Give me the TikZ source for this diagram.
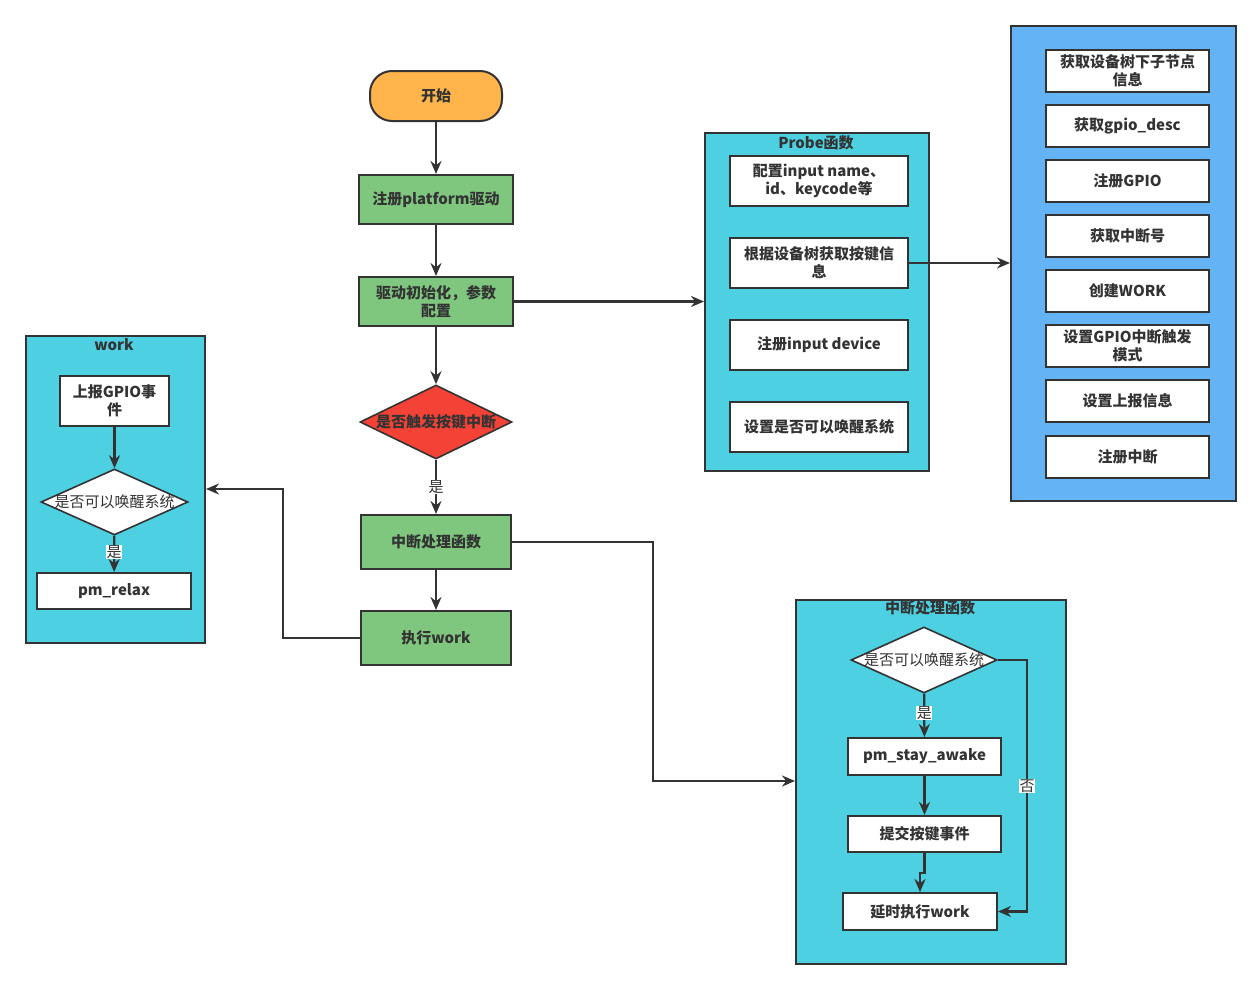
\documentclass[tikz,border=0pt]{standalone}
\usepackage{fontspec}
\setmainfont{Noto Sans CJK SC}
\usetikzlibrary{shapes.geometric,arrows.meta}
\definecolor{lc}{HTML}{333333}
\definecolor{orangec}{HTML}{FFB54C}
\definecolor{greenc}{HTML}{7FC77F}
\definecolor{redc}{HTML}{F44336}
\definecolor{cyanc}{HTML}{4DD0E1}
\definecolor{bluec}{HTML}{63B3F5}
\begin{document}
\begin{tikzpicture}[x=1pt,y=-1pt,
  every node/.style={font=\fontsize{15}{18}\selectfont\bfseries, text=lc, align=center, inner sep=0pt},
  gbox/.style={draw=lc, line width=2pt, fill=greenc},
  wbox/.style={draw=lc, line width=2pt, fill=white},
  cont/.style={draw=lc, line width=2pt},
  dia/.style={draw=lc, line width=1.6pt, shape=diamond, inner sep=0pt},
  conn/.style={draw=lc, line width=2.2pt, -{Stealth[length=13pt,width=11pt]}},
  elab/.style={fill=white, font=\fontsize{15}{16}\selectfont, inner sep=0.5pt},
  ttl/.style={font=\fontsize{15}{16}\selectfont\bfseries}
]
\useasboundingbox (0,0) rectangle (1259,988);

% containers
\node[cont, fill=cyanc, minimum width=224, minimum height=338, anchor=north west] (probe) at (704,132) {};
\node[ttl] (probet) at (816,143) {Probe函数};
\node[cont, fill=bluec, minimum width=225, minimum height=475, anchor=north west] (blue) at (1010,25) {};
\node[cont, fill=cyanc, minimum width=179, minimum height=307, anchor=north west] (work) at (25,335) {};
\node[ttl] (workt) at (114,345) {work};
\node[cont, fill=cyanc, minimum width=270, minimum height=364, anchor=north west] (irq) at (795,599) {};
\node[ttl] (irqt) at (930,608) {中断处理函数};

% main flow
\node[draw=lc, line width=2pt, fill=orangec, rounded corners=22pt, minimum width=132, minimum height=50] (start) at (436,96) {开始};
\node[gbox, minimum width=154, minimum height=49] (reg) at (436,199.5) {注册platform驱动};
\node[gbox, minimum width=154, minimum height=49] (init) at (436,301.5) {驱动初始化，参数\\配置};
\node[dia, fill=redc, minimum width=152, minimum height=74] (trig) at (436,422) {};
\node (trigt) at (436,422) {是否触发按键中断};
\node[gbox, minimum width=150, minimum height=54] (isr) at (436,542) {中断处理函数};
\node[gbox, minimum width=150, minimum height=54] (exec) at (436,638) {执行work};

\draw[conn] (start) -- (reg);
\draw[conn] (reg) -- (init);
\draw[conn] (init) -- (trig);
\draw[conn] (trig) -- node[elab] (yes1) {是} (isr);
\draw[conn] (isr) -- (exec);

% probe inner
\node[wbox, minimum width=178, minimum height=50] (p1) at (819,181) {配置input name、\\id、keycode等};
\node[wbox, minimum width=178, minimum height=50] (p2) at (819,263) {根据设备树获取按键信\\息};
\node[wbox, minimum width=178, minimum height=50] (p3) at (819,345) {注册input device};
\node[wbox, minimum width=178, minimum height=50] (p4) at (819,427) {设置是否可以唤醒系统};

\draw[conn] (init.east) -- (probe.west |- init.east);
\draw[conn] (p2.east) -- (blue.west |- p2.east);

% blue inner
\node[wbox, minimum width=163, minimum height=42] (b1) at (1127.5,71) {获取设备树下子节点\\信息};
\node[wbox, minimum width=163, minimum height=42] (b2) at (1127.5,126) {获取gpio\_desc};
\node[wbox, minimum width=163, minimum height=42] (b3) at (1127.5,181) {注册GPIO};
\node[wbox, minimum width=163, minimum height=42] (b4) at (1127.5,236) {获取中断号};
\node[wbox, minimum width=163, minimum height=42] (b5) at (1127.5,291) {创建WORK};
\node[wbox, minimum width=163, minimum height=42] (b6) at (1127.5,346) {设置GPIO中断触发\\模式};
\node[wbox, minimum width=163, minimum height=42] (b7) at (1127.5,401) {设置上报信息};
\node[wbox, minimum width=163, minimum height=42] (b8) at (1127.5,457) {注册中断};

% work inner
\node[wbox, minimum width=109, minimum height=50] (w1) at (114.5,401) {上报GPIO事\\件};
\node[dia, fill=white, minimum width=147, minimum height=66] (wd) at (114.5,502) {};
\node[font=\fontsize{15}{16}\selectfont] (wdt) at (114.5,502) {是否可以唤醒系统};
\node[wbox, minimum width=154, minimum height=36] (w2) at (114,591) {pm\_relax};
\draw[conn] (w1) -- (wd);
\draw[conn] (wd) -- node[elab, pos=0.45] (yes2) {是} (w2);

\coordinate (e1) at (283,638);
\coordinate (e2) at (283,489);
\draw[conn] (exec.west) -- (e1) -- (e2) -- (work.east |- e2);

% irq inner
\node[dia, fill=white, minimum width=146, minimum height=66] (id) at (924,660) {};
\node[font=\fontsize{15}{16}\selectfont] (idt) at (924,660) {是否可以唤醒系统};
\node[wbox, minimum width=153, minimum height=37] (i1) at (924.5,756.5) {pm\_stay\_awake};
\node[wbox, minimum width=153, minimum height=36] (i2) at (924.5,834) {提交按键事件};
\node[wbox, minimum width=154, minimum height=37] (i3) at (920,911.5) {延时执行work};
\draw[conn] (id) -- node[elab, pos=0.45] (yes3) {是} (i1);
\draw[conn] (i1) -- (i2);
\coordinate (j1) at (924.5,873);
\coordinate (j2) at (920,873);
\draw[conn] (i2.south) -- (j1) -- (j2) -- (i3.north);
\coordinate (n1) at (1027,660);
\coordinate (n2) at (1027,911.5);
\draw[conn] (id.east) -- (n1) -- node[elab, pos=0.5] (no1) {否} (n2) -- (i3.east);

\coordinate (k1) at (653,542);
\coordinate (k2) at (653,781);
\draw[conn] (isr.east) -- (k1) -- (k2) -- (irq.west |- k2);
\end{tikzpicture}
\end{document}
